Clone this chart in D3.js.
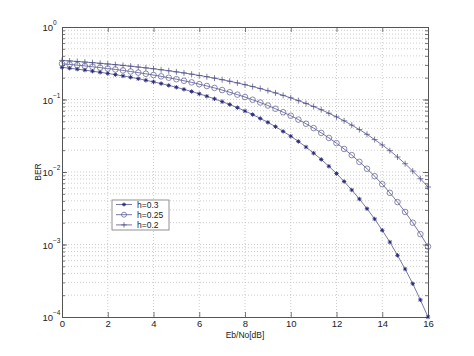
<!DOCTYPE html>
<html><head><meta charset="utf-8">
<script src="https://cdn.jsdelivr.net/npm/d3@7"></script>
<style>body{margin:0;background:#fff}svg{display:block}</style>
</head><body>
<script>
const ebno = [0,0.333,0.667,1,1.333,1.667,2,2.333,2.667,3,3.333,3.667,4,4.333,4.667,5,5.333,5.667,6,6.333,6.667,7,7.333,7.667,8,8.333,8.667,9,9.333,9.667,10,10.333,10.667,11,11.333,11.667,12,12.333,12.667,13,13.333,13.667,14,14.333,14.667,15,15.333,15.667,16];
const ber_h03 = [0.2777,0.2701,0.2623,0.2543,0.2459,0.2375,0.2291,0.2203,0.2113,0.2027,0.1936,0.1841,0.1752,0.1658,0.1566,0.1474,0.1380,0.1289,0.1198,0.1109,0.1021,0.0934,0.0853,0.0772,0.0693,0.0620,0.0548,0.0484,0.0422,0.0363,0.0312,0.0264,0.0221,0.0182,0.0149,0.0120,0.00951,0.00740,0.00565,0.00424,0.00312,0.00225,0.00157,0.00108,0.000709,0.000458,0.000288,0.000172,0.000100];
const ber_h025 = [0.3110,0.3044,0.2976,0.2904,0.2829,0.2753,0.2675,0.2598,0.2517,0.2433,0.2348,0.2263,0.2176,0.2086,0.1997,0.1905,0.1813,0.1722,0.1628,0.1536,0.1444,0.1349,0.1260,0.1167,0.1081,0.0992,0.0909,0.0826,0.0746,0.0668,0.0597,0.0528,0.0463,0.0403,0.0346,0.0295,0.0250,0.0208,0.0171,0.0138,0.0111,0.00875,0.00679,0.00516,0.00385,0.00281,0.00200,0.00139,0.000937];
const ber_h02 = [0.3461,0.3403,0.3345,0.3284,0.3222,0.3157,0.3089,0.3023,0.2952,0.2880,0.2805,0.2730,0.2653,0.2572,0.2491,0.2405,0.2324,0.2236,0.2146,0.2061,0.1969,0.1877,0.1785,0.1694,0.1600,0.1509,0.1415,0.1322,0.1233,0.1140,0.1054,0.0965,0.0883,0.0800,0.0723,0.0646,0.0576,0.0508,0.0443,0.0385,0.0331,0.0280,0.0236,0.0197,0.0161,0.0130,0.0103,0.00808,0.00621];
const seriesNames = ["h=0.3","h=0.25","h=0.2"];
const xTicks = [0,2,4,6,8,10,12,14,16];
const yExps = [0,-1,-2,-3,-4];
const xLabel = "Eb/No[dB]";
const yLabel = "BER";

const W=474,H=356;
const m={l:62,t:27,r:W-428,b:H-317};
const svg=d3.select("body").append("svg").attr("width",W).attr("height",H);
const x=d3.scaleLinear().domain([0,16]).range([m.l,W-m.r]);
const y=d3.scaleLog().domain([1e-4,1]).range([H-m.b,m.t]);
const font="Liberation Sans, Arial, sans-serif";
const lineCol="#55558f", markCol="#2c2c7a", axisCol="#555", gridCol="#c0c0c0";

// grid
const minorVals=[];
for(let e=-4;e<0;e++){for(let k=1;k<=9;k++){minorVals.push(k*Math.pow(10,e));}}
const g=svg.append("g");
g.selectAll("line.hg").data(minorVals.filter(v=>v>1e-4)).join("line")
 .attr("x1",x(0)).attr("x2",x(16)).attr("y1",d=>y(d)).attr("y2",d=>y(d))
 .attr("stroke",gridCol).attr("stroke-width",0.8).attr("stroke-dasharray","1,2");
g.selectAll("line.vg").data(xTicks.slice(1,-1)).join("line")
 .attr("x1",d=>x(d)).attr("x2",d=>x(d)).attr("y1",y(1)).attr("y2",y(1e-4))
 .attr("stroke",gridCol).attr("stroke-width",0.8).attr("stroke-dasharray","1,2");

// axes with inward ticks
const xb=d3.axisBottom(x).tickValues(xTicks).tickSize(-5).tickFormat(d3.format("d"));
const xt=d3.axisTop(x).tickValues(xTicks).tickSize(-5).tickFormat("");
const yl=d3.axisLeft(y).tickValues(minorVals.concat([1])).tickSize(-3).tickFormat("");
const yr=d3.axisRight(y).tickValues(minorVals.concat([1])).tickSize(-3).tickFormat("");
const gxb=svg.append("g").attr("transform",`translate(0,${y(1e-4)})`).call(xb);
svg.append("g").attr("transform",`translate(0,${y(1)})`).call(xt);
svg.append("g").attr("transform",`translate(${x(0)},0)`).call(yl);
svg.append("g").attr("transform",`translate(${x(16)},0)`).call(yr);
const ymaj=yExps.map(e=>Math.pow(10,e));
svg.append("g").attr("transform",`translate(${x(0)},0)`).call(d3.axisLeft(y).tickValues(ymaj).tickSize(-5).tickFormat(""));
svg.append("g").attr("transform",`translate(${x(16)},0)`).call(d3.axisRight(y).tickValues(ymaj).tickSize(-5).tickFormat(""));
svg.selectAll(".domain").attr("stroke",axisCol).attr("stroke-width",1);
svg.selectAll(".tick line").attr("stroke",axisCol).attr("stroke-width",0.8);
gxb.selectAll("text").attr("font-family",font).attr("font-size",9.5).attr("fill","#222").attr("y",0).attr("dy",10);

// y labels 10^e
const yt=svg.append("g");
yExps.forEach(e=>{
  yt.append("text").attr("x",x(0)-9).attr("y",y(Math.pow(10,e))+4)
   .attr("text-anchor","end").attr("font-family",font).attr("font-size",9.5).attr("fill","#222").text("10");
  yt.append("text").attr("x",x(0)-9).attr("y",y(Math.pow(10,e))-2)
   .attr("font-family",font).attr("font-size",6.5).attr("fill","#222").text(String(e).replace("-","\u2212"));
});

svg.append("text").attr("x",(x(0)+x(16))/2).attr("y",338).attr("text-anchor","middle")
 .attr("font-family",font).attr("font-size",8.5).attr("fill","#222").text(xLabel);
svg.append("text").attr("transform",`translate(41,${(y(1)+y(1e-4))/2}) rotate(-90)`).attr("text-anchor","middle")
 .attr("font-family",font).attr("font-size",8.5).attr("fill","#222").text(yLabel);

// markers
function marker(sel,type,s){
  if(type==="star"){
    const a=s, b=s*0.72;
    sel.append("path").attr("d",`M${-a},0H${a}M0,${-a}V${a}M${-b},${-b}L${b},${b}M${-b},${b}L${b},${-b}`)
      .attr("stroke",markCol).attr("stroke-width",0.9).attr("fill","none");
    sel.append("circle").attr("r",1).attr("fill",markCol);
  } else if(type==="circle"){
    sel.append("circle").attr("r",s).attr("fill","none").attr("stroke","#5a5a92").attr("stroke-width",0.7);
  } else {
    sel.append("path").attr("d",`M${-s},0H${s}M0,${-s}V${s}`).attr("stroke","#4a4a82").attr("stroke-width",0.7).attr("fill","none");
  }
}
const series=[{v:ber_h03,t:"star",s:2.2},{v:ber_h025,t:"circle",s:2.8},{v:ber_h02,t:"plus",s:3}];
const line=d3.line().x(d=>x(d[0])).y(d=>y(d[1]));
series.forEach(S=>{
  const pts=ebno.map((e,i)=>[e,S.v[i]]);
  svg.append("path").datum(pts).attr("d",line).attr("fill","none").attr("stroke",lineCol).attr("stroke-width",0.8);
  svg.append("g").selectAll("g").data(pts).join("g")
   .attr("transform",d=>`translate(${x(d[0])},${y(d[1])})`).each(function(){marker(d3.select(this),S.t,S.s);});
});

// legend
const lg=svg.append("g");
lg.append("rect").attr("x",112).attr("y",200).attr("width",57).attr("height",30).attr("fill","#fff").attr("stroke","#777").attr("stroke-width",0.8);
seriesNames.forEach((n,i)=>{
  const yy=204.5+i*10.2;
  lg.append("line").attr("x1",116).attr("x2",132).attr("y1",yy).attr("y2",yy).attr("stroke",lineCol).attr("stroke-width",0.8);
  const mg=lg.append("g").attr("transform",`translate(124,${yy})`);
  marker(mg,series[i].t,series[i].s*0.9);
  lg.append("text").attr("x",137).attr("y",yy+3).attr("font-family",font).attr("font-size",8.5).attr("fill","#222").text(n);
});
</script>
</body></html>
